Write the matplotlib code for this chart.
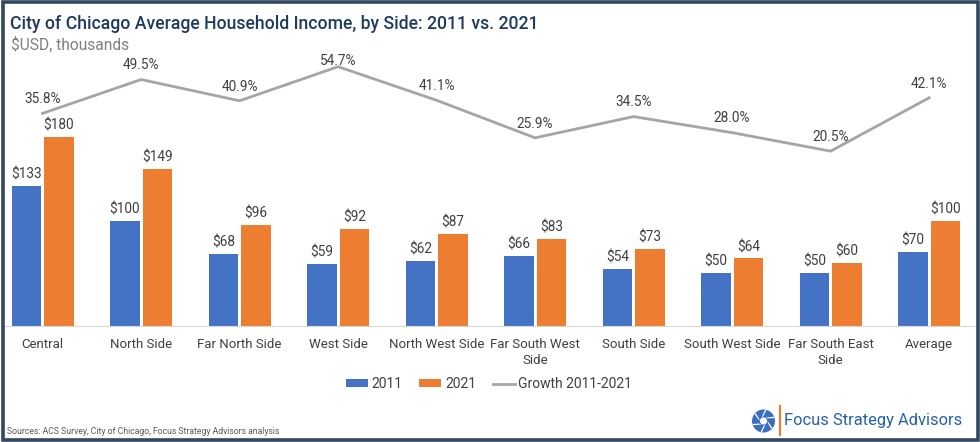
import numpy as np
import matplotlib
matplotlib.use('Agg')
import matplotlib.pyplot as plt
from matplotlib.patches import Rectangle, Circle, Polygon

plt.rcParams['font.family'] = ['Roboto', 'DejaVu Sans']

sides = ['Central', 'North Side', 'Far North Side', 'West Side', 'North West Side',
         'Far South West\nSide', 'South Side', 'South West Side', 'Far South East\nSide', 'Average']
income_2011 = [133, 100, 68, 59, 62, 66, 54, 50, 50, 70]
income_2021 = [180, 149, 96, 92, 87, 83, 73, 64, 60, 100]
growth = [35.8, 49.5, 40.9, 54.7, 41.1, 25.9, 34.5, 28.0, 20.5, 42.1]

BLUE = '#4472c4'
ORANGE = '#ed7d31'
GREY = '#a5a5a5'
NAVY = '#1f3a5f'
TEXT = '#404040'

W, H = 980, 442
fig = plt.figure(figsize=(W / 100, H / 100), dpi=100)


def box(x0, y0, x1, y1):
    # pixel box, y measured from the top
    return [x0 / W, 1 - y1 / H, (x1 - x0) / W, (y1 - y0) / H]


# bars, with the axes running out to the frame
left, right, top, base = 5, 975, 40, 325.5
step = 98.5
first = 42.6
ax = fig.add_axes(box(left, top, right, base))
ax.set_xlim((left - first) / step, (right - first) / step)
ax.set_ylim(0, (base - top) / 1.048)
x = np.arange(len(sides))
ax.bar(x - 0.165, income_2011, 0.3, color=BLUE, label='2011')
ax.bar(x + 0.165, income_2021, 0.3, color=ORANGE, label='2021')
for i in range(len(sides)):
    ax.annotate('$%d' % income_2011[i], (x[i] - 0.165, income_2011[i]), xytext=(0, 8.2),
                textcoords='offset points', ha='center', va='center', fontsize=9.8, color=TEXT)
    ax.annotate('$%d' % income_2021[i], (x[i] + 0.165, income_2021[i]), xytext=(0, 8.2),
                textcoords='offset points', ha='center', va='center', fontsize=9.8, color=TEXT)
ax.set_xticks(x)
ax.set_xticklabels(sides, fontsize=9.5, color=TEXT, linespacing=1.35)
ax.tick_params(axis='x', length=0, pad=9)
ax.set_yticks([])
for s in ['top', 'left', 'right']:
    ax.spines[s].set_visible(False)
ax.spines['bottom'].set_color('#d9d9d9')
ax.patch.set_alpha(0)

# growth line on its own scale
ax2 = ax.twinx()
px_per_pct = 2.47
ax2.set_ylim(-50.08, -50.08 + (base - top) / px_per_pct)
ax2.plot(x, growth, color=GREY, lw=2.0, label='Growth 2011-2021', solid_joinstyle='miter')
for i in range(len(sides)):
    # the West Side peak label sits tight on the line, just under the subtitle row
    lift = 4.0 if i == 3 else 10.2
    ax2.annotate('%.1f%%' % growth[i], (x[i], growth[i]), xytext=(0, lift), textcoords='offset points',
                 ha='center', va='center', fontsize=9.8, color=TEXT)
ax2.set_yticks([])
for s in ['top', 'left', 'right', 'bottom']:
    ax2.spines[s].set_visible(False)

handles = ax.get_legend_handles_labels()[0] + ax2.get_legend_handles_labels()[0]
labels = ax.get_legend_handles_labels()[1] + ax2.get_legend_handles_labels()[1]
fig.legend(handles, labels, loc='center', bbox_to_anchor=(489 / W, 1 - 384 / H), ncol=3, frameon=False,
           fontsize=10, labelcolor=TEXT, handlelength=1.6, handleheight=0.45, columnspacing=1.2,
           handletextpad=0.25)

# overlay in pixel coordinates for frame, headings and logo
ov = fig.add_axes([0, 0, 1, 1])
ov.set_xlim(0, W)
ov.set_ylim(H, 0)
ov.axis('off')
ov.patch.set_alpha(0)
ov.add_patch(Rectangle((2.5, 2), W - 5, H - 4, fill=False, ec='#33475f', lw=2.6))

ov.text(10, 24, 'City of Chicago Average Household Income, by Side: 2011 vs. 2021', fontsize=12.7,
        color=NAVY, fontweight='medium', va='center')
ov.text(11, 44.5, '$USD, thousands', fontsize=11.2, color='#7f7f7f', va='center')
ov.text(7, 432, 'Sources: ACS Survey, City of Chicago, Focus Strategy Advisors analysis', fontsize=6.2,
        color='#595959', va='center')

# aperture logo
cx, cy, r = 763.5, 421, 11.5
ov.add_patch(Circle((cx, cy), r, color='#3a6cc0', lw=0))
for a in np.arange(0, 360, 60):
    t = np.radians(a)
    t2 = np.radians(a + 38)
    ov.add_patch(Polygon([(cx + 4 * np.cos(t), cy + 4 * np.sin(t)),
                          (cx + r * np.cos(t2), cy + r * np.sin(t2)),
                          (cx + (r - 0.5) * np.cos(t2 + 0.12), cy + (r - 0.5) * np.sin(t2 + 0.12)),
                          (cx + 5 * np.cos(t + 0.5), cy + 5 * np.sin(t + 0.5))], color='white', lw=0))
ov.add_patch(Circle((cx, cy), 3.6, color='white', lw=0))
ov.plot([780, 780], [406, 435], color=ORANGE, lw=1.6)
ov.text(784, 421, 'Focus Strategy Advisors', fontsize=11.9, color='#2460b0', va='center')

fig.savefig('out.png', dpi=100)
